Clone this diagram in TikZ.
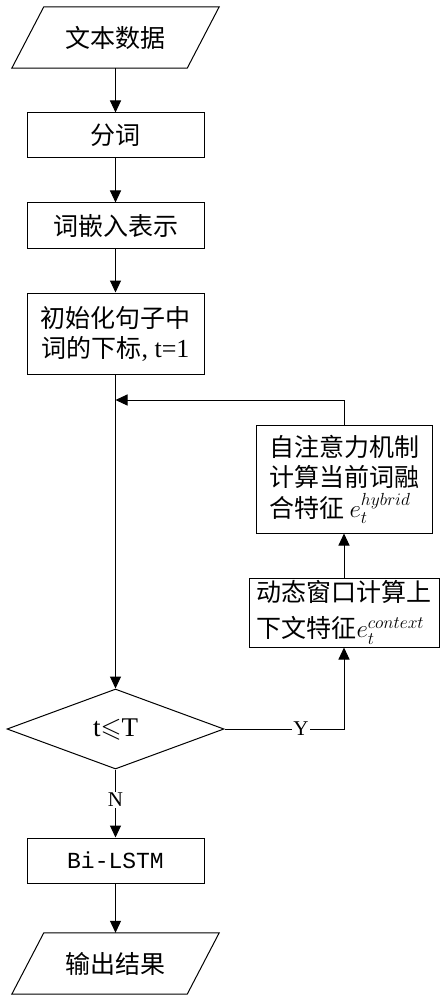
\RequirePackage{fix-cm}
\documentclass[tikz,border=0pt]{standalone}
\usepackage{amsmath,amssymb}
\usepackage{fontspec}
\setmainfont{Liberation Serif}
\newfontfamily\cjk{Noto Sans CJK SC}
\newfontfamily\mono{Liberation Mono}
\usetikzlibrary{arrows.meta,shapes.geometric,calc}
\begin{document}
\begin{tikzpicture}[x=1pt,y=-1pt,
  font=\fontsize{25}{30}\selectfont\cjk,
  box/.style={draw,line width=1pt,minimum width=177pt,minimum height=45pt,inner sep=0pt,align=center},
  io/.style={minimum width=175pt,minimum height=61pt,inner sep=0pt},
  arr/.style={line width=1pt,-{Triangle[length=12pt,width=11pt]}},
  ln/.style={line width=1pt},
  lbl/.style={fill=white,inner sep=1.5pt,font=\fontsize{21}{24}\selectfont\rmfamily}]
\useasboundingbox (0,0) rectangle (446,1000);

\node[io] (in) at (115.5,37.5) {文本数据};
\draw[ln] ($(in.north west)+(16,0)$) -- ($(in.north east)+(16,0)$) -- ($(in.south east)+(-16,0)$) -- ($(in.south west)+(-16,0)$) -- cycle;

\node[box] (seg) at (115.5,135.5) {分词};
\node[box] (emb) at (115.5,225.5) {词嵌入表示};
\node[box,minimum height=81pt] (init) at (115.5,333.5) {初始化句子中\\词的下标{\rmfamily\fontsize{26}{30}\selectfont, t=1}};
\coordinate (merge) at (115.5,400);

\node[diamond,draw,line width=1pt,minimum width=217pt,minimum height=80pt,inner sep=0pt] (dec) at (115.5,729) {\fontsize{27}{30}\selectfont{\rmfamily t}$\leqslant${\rmfamily T}};

\node[box,minimum width=176pt,minimum height=108pt,align=left] (att) at (344,479) {自注意力机制\\计算当前词融\\[1pt]合特征 $e_t^{hybrid}$};
\node[box,minimum width=190pt,minimum height=69pt,align=left] (dyn) at (344,612.5) {动态窗口计算上\\[6pt]下文特征$e_t^{context}$};

\node[box] (bil) at (115.5,860.5) {{\mono\fontsize{23}{28}\selectfont Bi-LSTM}};
\node[io] (out) at (115.5,963.5) {输出结果};
\draw[ln] ($(out.north west)+(16,0)$) -- ($(out.north east)+(16,0)$) -- ($(out.south east)+(-16,0)$) -- ($(out.south west)+(-16,0)$) -- cycle;

\draw[arr] (in.south) -- (seg.north);
\draw[arr] (seg.south) -- (emb.north);
\draw[arr] (emb.south) -- (init.north);
\draw[arr] (init.south) -- (dec.north);
\draw[arr] (att.north) |- (merge);
\draw[arr] (dec.east) -| node[lbl,pos=0.32]{Y} (dyn.south);
\draw[arr] (dyn.north) -- (att.south);
\draw[arr] (dec.south) -- node[lbl,pos=0.45]{N} (bil.north);
\draw[arr] (bil.south) -- (out.north);
\end{tikzpicture}
\end{document}
